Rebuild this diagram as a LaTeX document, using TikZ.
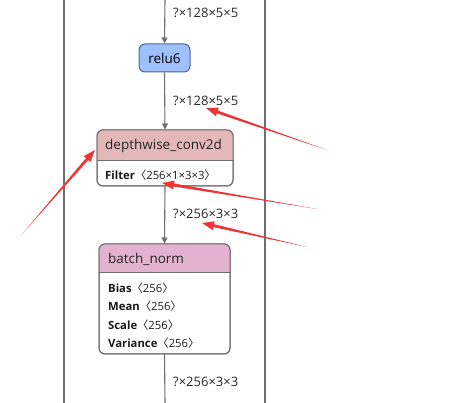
\documentclass[tikz,border=0pt]{standalone}
\usepackage{fontspec}
\setmainfont{Open Sans}
\newfontfamily\cjk{Noto Sans CJK SC}
\usetikzlibrary{calc,arrows.meta}
\definecolor{edgegray}{RGB}{110,110,110}
\definecolor{reluf}{RGB}{158,192,255}
\definecolor{relud}{RGB}{80,100,140}
\definecolor{dwf}{RGB}{228,184,184}
\definecolor{bnf}{RGB}{226,178,206}
\definecolor{annotred}{RGB}{238,52,52}
\newcommand\lb{{\cjk 〈}}
\newcommand\rb{{\cjk 〉}}
\newcommand\redarr[2]{%
  \path ($(#2)!12pt!(#1)$) coordinate (rbase);
  \fill[annotred] (#1) -- ($(rbase)!1.5pt!90:(#2)$) -- ($(rbase)!4.5pt!90:(#2)$) -- (#2) -- ($(rbase)!4.5pt!-90:(#2)$) -- ($(rbase)!1.5pt!-90:(#2)$) -- cycle;}
\begin{document}
\begin{tikzpicture}[x=1pt,y=-1pt,
  edge/.style={draw=edgegray,line width=1.1pt,-{Triangle[length=6pt,width=6pt]}},
  plain/.style={draw=edgegray,line width=1.1pt},
  shapelbl/.style={anchor=west,inner sep=0pt,font=\fontsize{13}{15}\selectfont,text=black!85},
  boxstyle/.style={draw=edgegray,line width=1pt,rounded corners=6pt,inner sep=0pt},
  titlestyle/.style={anchor=west,inner sep=0pt,font=\fontsize{13.5}{16}\selectfont,text=black!85},
  bodystyle/.style={anchor=west,inner sep=0pt,font=\fontsize{11.3}{13}\selectfont,text=black!90}]
\useasboundingbox (0,0) rectangle (474,403);
% side lines
\draw[plain] (64,0) -- (64,403);
\draw[plain] (265,0) -- (265,403);
% relu6
\node[boxstyle,draw=relud,fill=reluf,minimum width=51pt,minimum height=28pt,
  font=\fontsize{13.5}{16}\selectfont] (relu) at (164.5,58) {relu6};
% depthwise box
\node[boxstyle,minimum width=136pt,minimum height=56pt] (dw) at (165,158) {};
\begin{scope}
  \clip[rounded corners=6pt] (dw.north west) rectangle (dw.south east);
  \fill[dwf] (dw.north west) rectangle ($(dw.north east)+(0,31)$);
\end{scope}
\draw[edgegray,line width=1pt] ($(dw.north west)+(0,31)$) -- ($(dw.north east)+(0,31)$);
\node[boxstyle,minimum width=136pt,minimum height=56pt] at (dw) {};
\node[titlestyle] (dwt) at (105,146) {depthwise\_conv2d};
\node[bodystyle] (dwb) at (105,175) {\textbf{Filter}\lb256×1×3×3\rb};
% batch norm box
\node[boxstyle,minimum width=131pt,minimum height=110pt] (bn) at (164.5,299) {};
\begin{scope}
  \clip[rounded corners=6pt] (bn.north west) rectangle (bn.south east);
  \fill[bnf] (bn.north west) rectangle ($(bn.north east)+(0,29)$);
\end{scope}
\draw[edgegray,line width=1pt] ($(bn.north west)+(0,29)$) -- ($(bn.north east)+(0,29)$);
\node[boxstyle,minimum width=131pt,minimum height=110pt] at (bn) {};
\node[titlestyle] (bnt) at (108,259) {batch\_norm};
\node[bodystyle] (bn1) at (108,288) {\textbf{Bias}\lb256\rb};
\node[bodystyle] (bn2) at (108,306) {\textbf{Mean}\lb256\rb};
\node[bodystyle] (bn3) at (108,325) {\textbf{Scale}\lb256\rb};
\node[bodystyle] (bn4) at (108,343) {\textbf{Variance}\lb256\rb};
% connectors
\coordinate (top) at (165,0);
\coordinate (bot) at (165,403);
\draw[edge] (top) -- (relu.north);
\draw[edge] (relu.south) -- (dw.north);
\draw[edge] (dw.south) -- (bn.north);
\draw[plain] (bn.south) -- (bot);
% labels
\node[shapelbl] (l1) at (173,13) {?×128×5×5};
\node[shapelbl] (l2) at (173,101) {?×128×5×5};
\node[shapelbl] (l3) at (173,214) {?×256×3×3};
\node[shapelbl] (l4) at (173,382) {?×256×3×3};
% red annotation arrows
\coordinate (t1) at (327,150); \coordinate (h1) at (206,108);
\coordinate (t2) at (23,233);  \coordinate (h2) at (95,150);
\coordinate (t3) at (317,209); \coordinate (h3) at (162,183);
\coordinate (t4) at (307,247); \coordinate (h4) at (202,223);
\redarr{t1}{h1}
\redarr{t2}{h2}
\redarr{t3}{h3}
\redarr{t4}{h4}
\end{tikzpicture}
\end{document}
